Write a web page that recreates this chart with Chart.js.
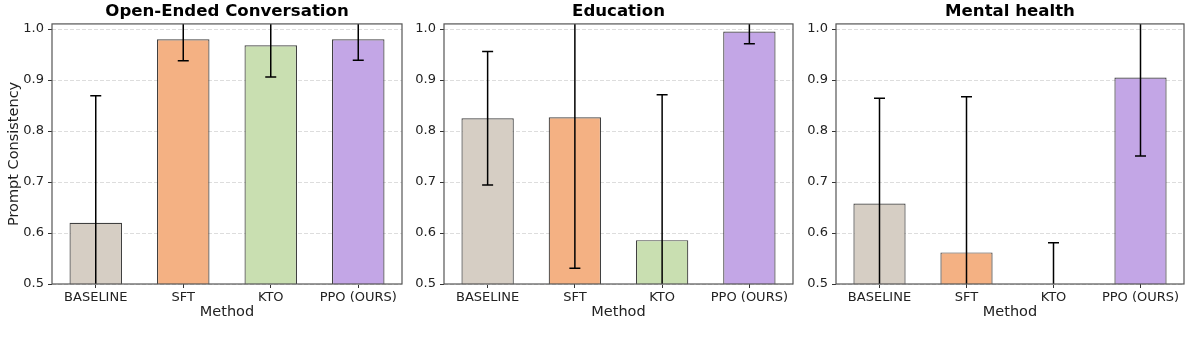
<!DOCTYPE html>
<html>
<head>
<meta charset="utf-8">
<script src="https://cdn.jsdelivr.net/npm/chart.js@4.4.1/dist/chart.umd.min.js"></script>
<style>
  html, body { margin: 0; padding: 0; background: #fff; }
  #wrap { position: relative; width: 1195px; height: 349px; }
  canvas { position: absolute; top: 0; }
</style>
</head>
<body>
<div id="wrap">
  <canvas id="c1" width="404" height="349" style="left:0px"></canvas>
  <canvas id="c2" width="385" height="349" style="left:410px"></canvas>
  <canvas id="c3" width="386" height="349" style="left:800px"></canvas>
</div>
<script>
'use strict';

const methods = ['BASELINE', 'SFT', 'KTO', 'PPO (OURS)'];
const yTicks = [0.5, 0.6, 0.7, 0.8, 0.9, 1.0];
const barColors = ['#d6cec4', '#f4b183', '#c9dfb1', '#c3a6e6'];

const convMeans = [0.620, 0.980, 0.968, 0.980];
const convErrors = [0.249, 0.042, 0.062, 0.041];

const eduMeans = [0.825, 0.827, 0.586, 0.995];
const eduErrors = [0.131, 0.296, 0.285, 0.024];

const mentalMeans = [0.658, 0.562, 0.40, 0.905];
const mentalErrors = [0.206, 0.305, 0.181, 0.154];

const FONT = 'DejaVu Sans';

// matplotlib-like error bars with caps, clipped to the plot area
const errorBars = {
  id: 'errorBars',
  afterDatasetsDraw(chart) {
    const { ctx, chartArea: a, scales: { y } } = chart;
    const ds = chart.data.datasets[0];
    const meta = chart.getDatasetMeta(0);
    ctx.save();
    ctx.beginPath();
    ctx.rect(a.left, a.top, a.right - a.left, a.bottom - a.top);
    ctx.clip();
    ctx.strokeStyle = '#000';
    ctx.lineWidth = 1.5;
    meta.data.forEach((bar, i) => {
      const v = ds.data[i], e = ds.errors[i];
      const hi = y.getPixelForValue(v + e);
      const lo = y.getPixelForValue(v - e);
      ctx.beginPath();
      ctx.moveTo(bar.x, lo); ctx.lineTo(bar.x, hi);
      ctx.moveTo(bar.x - 5.5, lo); ctx.lineTo(bar.x + 5.5, lo);
      ctx.moveTo(bar.x - 5.5, hi); ctx.lineTo(bar.x + 5.5, hi);
      ctx.stroke();
    });
    ctx.restore();
  },
  afterDraw(chart) {
    const { ctx, chartArea: a } = chart;
    ctx.save();
    ctx.strokeStyle = '#555';
    ctx.lineWidth = 1.2;
    ctx.strokeRect(a.left, a.top, a.right - a.left, a.bottom - a.top);
    ctx.restore();
  }
};

function makeChart(id, title, means, errors, yWidth, showYTitle) {
  new Chart(document.getElementById(id), {
    type: 'bar',
    data: {
      labels: methods,
      datasets: [{
        data: means,
        errors: errors,
        backgroundColor: barColors,
        borderColor: 'rgba(30,30,30,0.85)',
        borderWidth: 1.2,
        barPercentage: 1,
        categoryPercentage: 0.6,
        clip: 0,
      }],
    },
    options: {
      responsive: false,
      animation: false,
      devicePixelRatio: 1,
      layout: { padding: { left: 0, right: 2, top: 0, bottom: 0 } },
      scales: {
        x: {
          afterFit: (s) => { s.height = 65; },
          grid: {
            offset: false,
            drawOnChartArea: false,
            drawTicks: true,
            tickLength: 4,
            tickColor: '#333',
            tickBorderDash: [],
          },
          border: { display: false },
          ticks: { color: '#222', padding: 2, font: { family: FONT, size: 13 } },
          title: {
            display: true,
            text: 'Method',
            color: '#222',
            font: { family: FONT, size: 14.5 },
            padding: { top: 0, bottom: 28 },
          },
        },
        y: {
          min: 0.5,
          max: 1.01,
          afterFit: (s) => { s.width = yWidth; },
          afterBuildTicks: (s) => { s.ticks = yTicks.map(v => ({ value: v })); },
          grid: {
            color: '#dddddd',
            lineWidth: 1,
            drawTicks: true,
            tickLength: 4,
            tickColor: '#333',
            tickBorderDash: [],
          },
          border: { display: false, dash: [4, 2] },
          ticks: {
            color: '#222',
            padding: 4,
            font: { family: FONT, size: 13 },
            callback: (v) => Number(v).toFixed(1),
          },
          title: {
            display: showYTitle,
            text: 'Prompt Consistency',
            color: '#222',
            font: { family: FONT, size: 14.5 },
            padding: { top: 6, bottom: 0 },
          },
        },
      },
      plugins: {
        legend: { display: false },
        tooltip: { enabled: false },
        title: {
          display: true,
          text: title,
          fullSize: false,
          color: '#000',
          font: { family: FONT, size: 16.6, weight: 'bold' },
          padding: { top: 2, bottom: 2 },
        },
      },
    },
    plugins: [errorBars],
  });
}

makeChart('c1', 'Open-Ended Conversation', convMeans, convErrors, 52, true);
makeChart('c2', 'Education', eduMeans, eduErrors, 34, false);
makeChart('c3', 'Mental health', mentalMeans, mentalErrors, 36, false);
</script>
</body>
</html>
